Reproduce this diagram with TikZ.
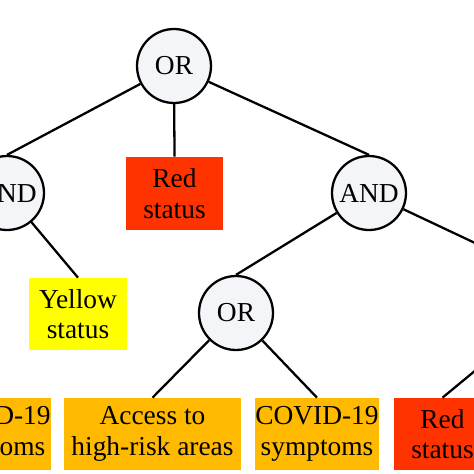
\documentclass[tikz,border=0pt]{standalone}
\usepackage{fontspec}
\setmainfont{Liberation Serif}
\usetikzlibrary{positioning}

\definecolor{redstat}{RGB}{255,51,0}
\definecolor{yellowstat}{RGB}{255,255,0}
\definecolor{amberstat}{RGB}{255,186,0}
\definecolor{gatefill}{RGB}{244,245,248}

\begin{document}
\begin{tikzpicture}[x=0.02cm, y=-0.02cm,
  every node/.style={font=\fontsize{15.6}{17.4}\selectfont},
  gate/.style={circle, draw=black, line width=1.3pt, fill=gatefill,
               minimum size=1.48cm, inner sep=0pt},
  leaf/.style={rectangle, align=center, inner sep=0pt,
               minimum height=1.44cm},
  link/.style={line width=1.3pt}
]
\useasboundingbox (0,0) rectangle (474,474);
\clip (0,0) rectangle (474,474);

% gates
\node[gate] (orTop) at (174,66) {OR};
\node[gate] (andL)  at (7,193)  {AND};
\node[gate] (andR)  at (369,193) {AND};
\node[gate] (orMid) at (236,313) {OR};
\coordinate (offR) at (545,313);
\coordinate (offRtop) at (545,276);

% leaves
\node[leaf, fill=redstat, minimum width=1.94cm, minimum height=1.46cm]
  (redTop) at (174.5,193.5) {Red\\status};
\node[leaf, fill=yellowstat, minimum width=1.96cm]
  (yellow) at (78,314) {Yellow\\status};
\node[leaf, fill=amberstat, minimum width=2.44cm]
  (covidL) at (-11,434) {COVID-19\\symptoms};
\node[leaf, fill=amberstat, minimum width=3.54cm]
  (access) at (152.5,434) {Access to\\high-risk areas};
\node[leaf, fill=amberstat, minimum width=2.44cm]
  (covidM) at (317,434) {COVID-19\\symptoms};
\node[leaf, fill=redstat, minimum width=1.94cm]
  (redBot) at (442.5,434) {Red\\status};

% connectors
\draw[link] (orTop) -- (andL.north);
\draw[link] (orTop) -- (redTop.north);
\draw[link] (orTop) -- (andR.north);
\draw[link] (andL) -- (yellow.north);
\draw[link] (andR) -- (orMid.north);
\draw[link] (andR) -- (offRtop);
\draw[link] (orMid) -- (access.north);
\draw[link] (orMid) -- (covidM.north);
\draw[link] (offR) -- (redBot.north);
\end{tikzpicture}
\end{document}
